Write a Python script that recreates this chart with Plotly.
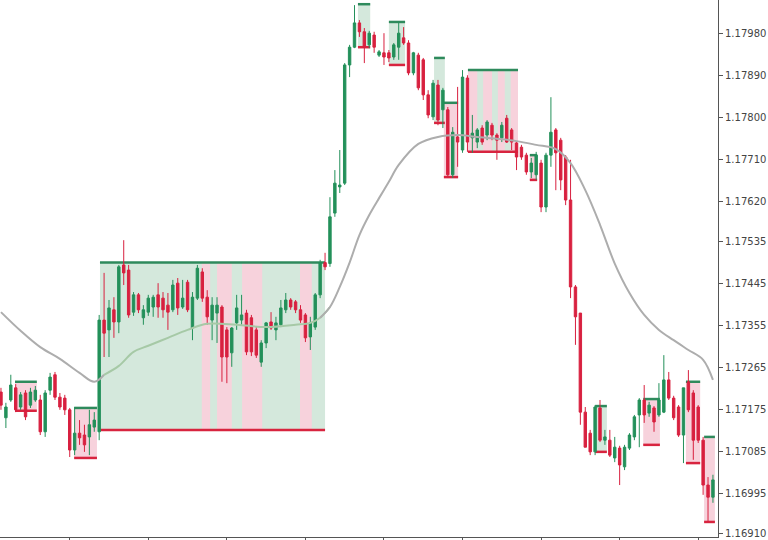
import plotly.graph_objects as go

# ---------------- data ----------------
opens = [1.17212, 1.17157, 1.17195, 1.17221, 1.17180, 1.17210, 1.17184, 1.17195, 1.17195, 1.17127,
         1.17216, 1.17249, 1.17201, 1.17199, 1.17174, 1.17088, 1.17124, 1.17120, 1.17116, 1.17137,
         1.17127, 1.17366, 1.17345, 1.17388, 1.17362, 1.17484, 1.17473, 1.17383, 1.17420, 1.17371,
         1.17383, 1.17394, 1.17420, 1.17413, 1.17398, 1.17388, 1.17445, 1.17394, 1.17447, 1.17349,
         1.17413, 1.17469, 1.17415, 1.17366, 1.17381, 1.17394, 1.17345, 1.17296, 1.17360, 1.17366,
         1.17381, 1.17371, 1.17345, 1.17276, 1.17317, 1.17362, 1.17345, 1.17356, 1.17388, 1.17409,
         1.17405, 1.17388, 1.17377, 1.17330, 1.17351, 1.17420, 1.17489, 1.17487, 1.17595, 1.17651,
         1.17659, 1.17912, 1.17950, 1.18002, 1.17983, 1.17955, 1.17976, 1.17933, 1.17938, 1.17938,
         1.17929, 1.17950, 1.17970, 1.17959, 1.17895, 1.17933, 1.17923, 1.17848, 1.17801, 1.17869,
         1.17816, 1.17816, 1.17677, 1.17758, 1.17730, 1.17884, 1.17756, 1.17747, 1.17777, 1.17762,
         1.17783, 1.17762, 1.17756, 1.17798, 1.17773, 1.17745, 1.17736, 1.17719, 1.17683, 1.17677,
         1.17702, 1.17608, 1.17719, 1.17773, 1.17751, 1.17715, 1.17623, 1.17437, 1.17381, 1.17169,
         1.17124, 1.17084, 1.17178, 1.17109, 1.17109, 1.17071, 1.17092, 1.17052, 1.17092, 1.17116,
         1.17163, 1.17195, 1.17167, 1.17178, 1.17163, 1.17169, 1.17238, 1.17199, 1.17180, 1.17120,
         1.17234, 1.17210, 1.17180, 1.17109, 1.17013, 1.16987]
highs = [1.17221, 1.17189, 1.17249, 1.17229, 1.17212, 1.17216, 1.17221, 1.17225, 1.17206, 1.17216,
         1.17253, 1.17255, 1.17210, 1.17206, 1.17178, 1.17180, 1.17152, 1.17142, 1.17174, 1.17169,
         1.17377, 1.17467, 1.17409, 1.17415, 1.17484, 1.17537, 1.17484, 1.17426, 1.17424, 1.17398,
         1.17420, 1.17420, 1.17445, 1.17426, 1.17424, 1.17452, 1.17456, 1.17452, 1.17452, 1.17426,
         1.17484, 1.17477, 1.17430, 1.17415, 1.17415, 1.17398, 1.17351, 1.17351, 1.17420, 1.17420,
         1.17388, 1.17377, 1.17351, 1.17323, 1.17362, 1.17383, 1.17373, 1.17409, 1.17424, 1.17413,
         1.17409, 1.17398, 1.17381, 1.17373, 1.17424, 1.17495, 1.17510, 1.17629, 1.17687, 1.17730,
         1.17916, 1.17955, 1.18040, 1.18008, 1.17991, 1.17985, 1.17983, 1.17944, 1.17980, 1.17944,
         1.17959, 1.18002, 1.17993, 1.17965, 1.17940, 1.17938, 1.17927, 1.17858, 1.17880, 1.17880,
         1.17863, 1.17822, 1.17779, 1.17865, 1.17901, 1.17890, 1.17805, 1.17777, 1.17783, 1.17794,
         1.17788, 1.17766, 1.17790, 1.17805, 1.17777, 1.17747, 1.17741, 1.17724, 1.17713, 1.17726,
         1.17709, 1.17724, 1.17843, 1.17777, 1.17756, 1.17719, 1.17709, 1.17441, 1.17381, 1.17180,
         1.17131, 1.17184, 1.17195, 1.17131, 1.17131, 1.17116, 1.17097, 1.17099, 1.17124, 1.17163,
         1.17199, 1.17227, 1.17191, 1.17182, 1.17231, 1.17291, 1.17255, 1.17204, 1.17184, 1.17221,
         1.17259, 1.17216, 1.17184, 1.17116, 1.17030, 1.17035]
lows = [1.17174, 1.17135, 1.17191, 1.17169, 1.17174, 1.17152, 1.17178, 1.17191, 1.17120, 1.17116,
        1.17206, 1.17195, 1.17174, 1.17163, 1.17073, 1.17077, 1.17099, 1.17084, 1.17077, 1.17127,
        1.17109, 1.17287, 1.17287, 1.17328, 1.17338, 1.17441, 1.17371, 1.17375, 1.17381, 1.17356,
        1.17375, 1.17373, 1.17371, 1.17371, 1.17345, 1.17383, 1.17377, 1.17390, 1.17383, 1.17323,
        1.17409, 1.17405, 1.17356, 1.17323, 1.17317, 1.17234, 1.17231, 1.17266, 1.17345, 1.17356,
        1.17291, 1.17289, 1.17285, 1.17266, 1.17306, 1.17345, 1.17323, 1.17351, 1.17381, 1.17388,
        1.17381, 1.17360, 1.17319, 1.17302, 1.17345, 1.17413, 1.17473, 1.17480, 1.17587, 1.17638,
        1.17655, 1.17886, 1.17948, 1.17972, 1.17916, 1.17948, 1.17938, 1.17929, 1.17912, 1.17918,
        1.17923, 1.17923, 1.17955, 1.17890, 1.17890, 1.17858, 1.17837, 1.17798, 1.17794, 1.17783,
        1.17777, 1.17670, 1.17670, 1.17694, 1.17724, 1.17726, 1.17724, 1.17734, 1.17741, 1.17751,
        1.17751, 1.17709, 1.17747, 1.17745, 1.17730, 1.17687, 1.17709, 1.17677, 1.17670, 1.17666,
        1.17597, 1.17597, 1.17694, 1.17644, 1.17644, 1.17612, 1.17413, 1.17313, 1.17142, 1.17094,
        1.17077, 1.17077, 1.17105, 1.17099, 1.17073, 1.17062, 1.17013, 1.17045, 1.17088, 1.17109,
        1.17094, 1.17146, 1.17159, 1.17127, 1.17159, 1.17167, 1.17195, 1.17152, 1.17116, 1.17060,
        1.17169, 1.17067, 1.17103, 1.16992, 1.16934, 1.16975]
closes = [1.17184, 1.17180, 1.17227, 1.17174, 1.17206, 1.17159, 1.17212, 1.17216, 1.17127, 1.17210,
          1.17244, 1.17201, 1.17180, 1.17174, 1.17088, 1.17124, 1.17114, 1.17099, 1.17142, 1.17152,
          1.17366, 1.17338, 1.17392, 1.17362, 1.17480, 1.17467, 1.17377, 1.17420, 1.17388, 1.17388,
          1.17413, 1.17415, 1.17394, 1.17388, 1.17383, 1.17441, 1.17392, 1.17413, 1.17388, 1.17415,
          1.17477, 1.17413, 1.17373, 1.17398, 1.17398, 1.17287, 1.17287, 1.17349, 1.17392, 1.17377,
          1.17298, 1.17298, 1.17291, 1.17317, 1.17360, 1.17349, 1.17360, 1.17392, 1.17409, 1.17394,
          1.17388, 1.17366, 1.17328, 1.17360, 1.17420, 1.17489, 1.17480, 1.17587, 1.17659, 1.17655,
          1.17912, 1.17950, 1.18002, 1.17983, 1.17950, 1.17980, 1.17950, 1.17940, 1.17929, 1.17927,
          1.17955, 1.17980, 1.17959, 1.17895, 1.17938, 1.17863, 1.17848, 1.17805, 1.17873, 1.17794,
          1.17858, 1.17677, 1.17768, 1.17747, 1.17886, 1.17747, 1.17766, 1.17773, 1.17747, 1.17790,
          1.17762, 1.17751, 1.17783, 1.17747, 1.17747, 1.17715, 1.17715, 1.17683, 1.17702, 1.17719,
          1.17608, 1.17719, 1.17768, 1.17724, 1.17666, 1.17623, 1.17437, 1.17373, 1.17169, 1.17094,
          1.17084, 1.17180, 1.17109, 1.17116, 1.17077, 1.17094, 1.17056, 1.17094, 1.17120, 1.17159,
          1.17195, 1.17163, 1.17184, 1.17148, 1.17195, 1.17238, 1.17199, 1.17157, 1.17120, 1.17221,
          1.17174, 1.17109, 1.17109, 1.17013, 1.16987, 1.17024]

# moving average, read at selected bars
ma_idx = [0, 4, 8, 12, 16, 19, 21, 24, 27, 30, 34, 38, 42, 48, 54, 60, 63, 65, 67, 69, 71, 73, 75,
          77, 79, 81, 85, 89, 93, 97, 101, 105, 109, 113, 116, 119, 122, 125, 128, 131, 134, 137,
          140, 143, 145]
ma_val = [1.17383, 1.17343, 1.17308, 1.17283, 1.17253, 1.17234, 1.17249, 1.17268, 1.17298, 1.17311,
          1.17328, 1.17345, 1.17358, 1.17356, 1.17351, 1.17356, 1.17360, 1.17371, 1.17394, 1.17437,
          1.17489, 1.17548, 1.17591, 1.17627, 1.17662, 1.17698, 1.17743, 1.17758, 1.17762, 1.17758,
          1.17754, 1.17749, 1.17741, 1.17732, 1.17702, 1.17644, 1.17570, 1.17487, 1.17424, 1.17377,
          1.17345, 1.17323, 1.17302, 1.17281, 1.17238]

# zones (bar-index span, price top/bottom, kind)
box_start = [2.85, 14.9, 20.16, 72.7, 79.0, 88.2, 90.2, 95.1, 107.7, 121.0, 130.8, 139.5, 143.2]
box_end = [7.3, 19.55, 66.0, 75.2, 82.3, 90.4, 93.1, 105.3, 109.2, 123.4, 134.2, 142.4, 145.4]
box_top = [1.17234, 1.17178, 1.17489, 1.18042, 1.18004, 1.17927, 1.17831, 1.17901, 1.17719,
           1.17182, 1.17197, 1.17234, 1.17116]
box_bottom = [1.17172, 1.17071, 1.17131, 1.17950, 1.17912, 1.17788, 1.17672, 1.17726, 1.17666,
              1.17084, 1.17099, 1.17060, 1.16934]
box_kind = ["bear", "bear", "bull", "bull", "bull", "bull", "bear", "bear", "bear",
            "bull", "bear", "bear", "bear"]

# stripes inside zones (parent zone number, span)
stripe_parent = [2, 2, 2, 2, 7, 7, 7]
stripe_start = [40.9, 44.0, 49.1, 60.9, 97.0, 100.0, 102.6]
stripe_end = [42.6, 47.0, 53.2, 63.3, 98.2, 101.2, 103.8]

# axis ticks
y_ticks = [1.17980, 1.17890, 1.17800, 1.17710, 1.17620, 1.17535, 1.17445, 1.17355,
           1.17265, 1.17175, 1.17085, 1.16995, 1.16910]
x_ticks = [14, 30, 46, 62, 78, 94, 110, 126, 142]

# ---------------- styling ----------------
GREEN = "#23905a"
RED = "#d8203f"
GREEN_FILL = "#d4e8dc"
PINK_FILL = "#f7d2dc"
LINE_GREEN = "#2e8a5c"
LINE_RED = "#d8243f"

idx = list(range(len(opens)))

shapes = []
for s, e, t, b, k in zip(box_start, box_end, box_top, box_bottom, box_kind):
    shapes.append(dict(type="rect", xref="x", yref="y", x0=s, x1=e, y0=b, y1=t,
                       fillcolor=GREEN_FILL if k == "bull" else PINK_FILL,
                       line=dict(width=0), layer="below"))
for p, s, e in zip(stripe_parent, stripe_start, stripe_end):
    k = box_kind[p]
    shapes.append(dict(type="rect", xref="x", yref="y", x0=s, x1=e,
                       y0=box_bottom[p], y1=box_top[p],
                       fillcolor=PINK_FILL if k == "bull" else GREEN_FILL,
                       line=dict(width=0), layer="below"))
for s, e, t, b in zip(box_start, box_end, box_top, box_bottom):
    shapes.append(dict(type="line", xref="x", yref="y", x0=s, x1=e, y0=t, y1=t,
                       line=dict(color=LINE_GREEN, width=2.5), layer="below"))
    shapes.append(dict(type="line", xref="x", yref="y", x0=s, x1=e, y0=b, y1=b,
                       line=dict(color=LINE_RED, width=2.5), layer="below"))

fig = go.Figure()

# moving average: grey outside the big zone, greenish inside it
big = 2
in_x, in_y, pre_x, pre_y, post_x, post_y = [], [], [], [], [], []
for i, v in zip(ma_idx, ma_val):
    if i <= box_start[big] + 1:
        pre_x.append(i); pre_y.append(v)
    if box_start[big] - 1 <= i <= box_end[big] + 1:
        in_x.append(i); in_y.append(v)
    if i >= box_end[big] - 1:
        post_x.append(i); post_y.append(v)
for xs, ys, col in [(pre_x, pre_y, "#adadad"), (in_x, in_y, "#a6c9a6"), (post_x, post_y, "#adadad")]:
    fig.add_trace(go.Scatter(x=xs, y=ys, mode="lines",
                             line=dict(color=col, width=2, shape="spline", smoothing=1.0),
                             hoverinfo="skip"))

fig.add_trace(go.Candlestick(
    x=idx, open=opens, high=highs, low=lows, close=closes,
    increasing=dict(line=dict(color=GREEN, width=1), fillcolor=GREEN),
    decreasing=dict(line=dict(color=RED, width=1), fillcolor=RED),
    whiskerwidth=0,
))

fig.update_layout(
    width=768, height=540,
    margin=dict(l=0, r=50, t=0, b=3, autoexpand=False),
    paper_bgcolor="white", plot_bgcolor="white",
    showlegend=False,
    shapes=shapes,
    xaxis=dict(range=[-0.2, 146.03], showgrid=False, zeroline=False, showline=True,
               linecolor="#555555", linewidth=1, ticks="outside", ticklen=3,
               tickcolor="#555555", tickvals=x_ticks, ticktext=["" for _ in x_ticks],
               rangeslider=dict(visible=False), fixedrange=True, automargin=False),
    yaxis=dict(range=[1.169018, 1.18051], side="right", showgrid=False, zeroline=False,
               showline=True, linecolor="#555555", linewidth=1, ticks="outside",
               ticklen=4, tickcolor="#555555", tickvals=y_ticks, automargin=False,
               ticktext=[f"{v:.5f}" for v in y_ticks],
               tickfont=dict(family="DejaVu Sans", size=10, color="#444444")),
)

fig.write_html("out.html", config={"displayModeBar": False},
               post_script="document.body.style.margin='0';")
